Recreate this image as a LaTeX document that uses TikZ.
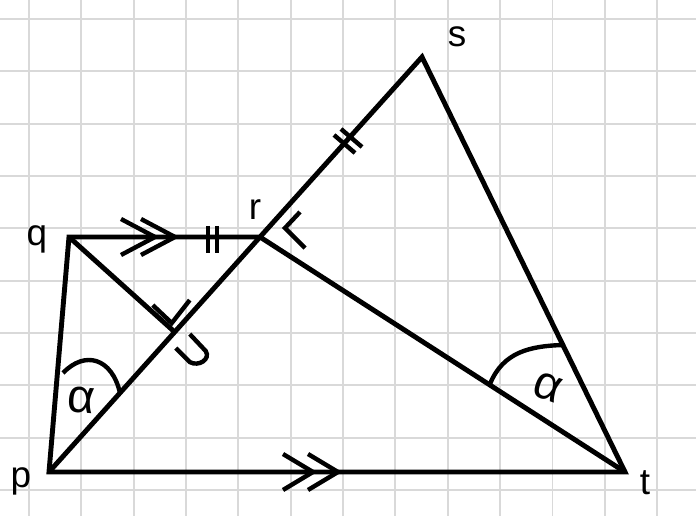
\documentclass[tikz,border=0pt]{standalone}
\usepackage{fontspec}
\setmainfont{Liberation Sans}
\usetikzlibrary{calc}
\tikzset{
	gridline/.style={draw=black!15, line width=1.1pt},
	seg/.style={line width=2.8pt},
	mk/.style={line width=2.5pt},
	lbl/.style={font=\fontsize{21}{24}\selectfont, inner sep=0pt},
	angmark/.style={font=\fontsize{27}{30}\selectfont, inner sep=0pt}
}
\begin{document}
\begin{tikzpicture}[x=0.02cm, y=-0.02cm]
	\path[use as bounding box, fill=white] (0,0) rectangle (696,516);
	\foreach \i in {0,...,12}
		\draw[gridline] ({29+52.35*\i},0) -- ({29+52.35*\i},516);
	\foreach \j in {0,...,9}
		\draw[gridline] (0,{19+52.35*\j}) -- (696,{19+52.35*\j});

	\coordinate (p) at (49,472);
	\coordinate (q) at (69,237);
	\coordinate (r) at (260,237);
	\coordinate (s) at (422,57);
	\coordinate (t) at (625,472);
	\coordinate (h) at ($(p)!(q)!(s)$);

	\draw[seg] (p) -- (q) -- (r) -- (s) -- (t) -- cycle;
	\draw[seg] (p) -- (r);
	\draw[seg] (r) -- (t);
	\draw[seg] (q) -- (h);

	\node[lbl] (lp) at (21,481) {p};
	\node[lbl] (lq) at (37,239) {q};
	\node[lbl] (lr) at (255,210) {r};
	\node[lbl] (ls) at (457,37) {s};
	\node[lbl] (lt) at (645,483) {t};

	\foreach \x in {155,175}
		\draw[mk] (\x-34,219) -- (\x,237) -- (\x-34,255);
	\foreach \x in {313,338}
		\draw[mk] (\x-30,454) -- (\x,472) -- (\x-30,490);

	\draw[mk] (208,226) -- (208,253);
	\draw[mk] (217,226) -- (217,253);
	\draw[mk] (334,135) -- (355,153);
	\draw[mk] (341,129) -- (362,147);

	\draw[mk] ($(h)+(-22,-27)$) -- ($(h)+(-3,-9)$) -- ($(h)+(15,-32)$);
	\draw[mk] ($(h)+(15,2)$) -- ($(h)+(31,19)$) .. controls ($(h)+(36,27)$) and ($(h)+(24,35)$) .. ($(h)+(15,30)$) -- ($(h)+(1,16)$);
	\draw[mk] ($(r)+(40,-25)$) -- ($(r)+(25,-9)$) -- ($(r)+(45,11)$);

	\draw[mk] (63,373) .. controls (85,350) and (112,358) .. (120,393);
	\draw[mk] (490,384) .. controls (503,352) and (530,346) .. (563,345);
	\node[angmark, rotate=-5] (ap) at (81,400) {α};
	\node[angmark, rotate=-20] (at) at (548,387) {α};
\end{tikzpicture}
\end{document}
